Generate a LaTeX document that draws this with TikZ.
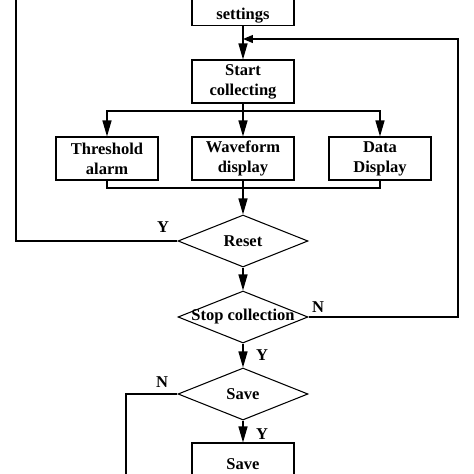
\documentclass[tikz,border=0pt]{standalone}
\usepackage{fontspec}
\setmainfont{Liberation Serif}
\usetikzlibrary{shapes.geometric,arrows.meta}

\begin{document}
\begin{tikzpicture}[x=0.02cm,y=-0.02cm,
    font=\bfseries\fontsize{9.4}{11.4}\selectfont,
    box/.style={rectangle,draw,line width=0.6pt,minimum width=2.04cm,minimum height=0.86cm,align=center,inner sep=1pt},
    test/.style={diamond,draw,line width=0.6pt,minimum width=2.6cm,minimum height=1.04cm,aspect=2.5,inner sep=0pt},
    flow/.style={line width=0.7pt,-{Triangle[length=0.32cm,width=0.18cm]}},
    back/.style={line width=0.7pt,-{Triangle[length=0.2cm,width=0.16cm]}},
    wire/.style={line width=0.7pt}]
        \useasboundingbox (0,0) rectangle (474,474);
        % boxes
        \node[box,anchor=south] (settings) at (243,26) {\strut\\settings};
        \node[box] (start) at (243,81.5) {Start\\collecting};
        \node[box] (thr) at (107,158.5) {Threshold\\alarm};
        \node[box] (wave) at (243,158.5) {Waveform\\display};
        \node[box] (data) at (380,158.5) {Data\\Display};
        \node[test] (reset) at (243,241) {Reset};
        \node[test] (stop) at (243,317) {\makebox[0pt]{Stop collection}};
        \node[test] (savetest) at (243,394) {Save};
        \node[box] (savebox) at (243,464.5) {Save};
        % labels
        \node (y1) at (163,227) {Y};
        \node (n1) at (318,307) {N};
        \node (y2) at (262,355) {Y};
        \node (n2) at (162,382) {N};
        \node (y3) at (262,434) {Y};
        % helper points
        \coordinate (split) at (243,111);
        \coordinate (merge) at (243,188);
        \coordinate (join) at (243,39);
        \coordinate (rtop) at (458,39);
        \coordinate (ltop) at (16,-20);
        \coordinate (lbot) at (126,490);
        % connectors
        \draw[flow] (settings) -- (start);
        \draw[flow] (start) -- (wave);
        \draw[flow] (split) -| (thr);
        \draw[flow] (split) -| (data);
        \draw[wire] (thr.south) |- (merge);
        \draw[wire] (data.south) |- (merge);
        \draw[flow] (wave) -- (reset);
        \draw[flow] (reset) -- (stop);
        \draw[flow] (stop) -- (savetest);
        \draw[flow] (savetest) -- (savebox);
        \draw[wire] (reset.west) -| (ltop);
        \draw[back] (stop.east) -| (rtop) -- (join);
        \draw[wire] (savetest.west) -| (lbot);
\end{tikzpicture}
\end{document}
